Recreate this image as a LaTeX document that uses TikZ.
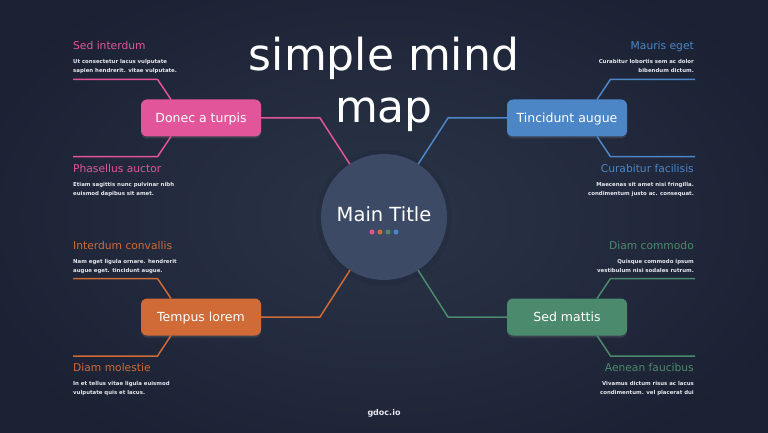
\documentclass[tikz,border=0pt]{standalone}
\usepackage{fontspec}
\setmainfont{DejaVu Sans}
\usetikzlibrary{shadows}
\definecolor{bgin}{HTML}{2B3448}
\definecolor{bgout}{HTML}{1B2133}
\definecolor{circ}{HTML}{3C4A66}
\definecolor{pinkc}{HTML}{E3559A}
\definecolor{bluec}{HTML}{4C86C7}
\definecolor{orangec}{HTML}{D06A37}
\definecolor{greenc}{HTML}{4B8A6D}
\definecolor{desc}{HTML}{E6E8EE}
\tikzset{
  branch/.style={rounded corners=6pt, minimum width=120pt, minimum height=37pt,
    inner sep=0pt, outer sep=0pt, text=white, font=\fontsize{12.5}{14}\selectfont,
    text height=9.2pt, text depth=0pt,
    drop shadow={opacity=0.25, shadow xshift=0pt, shadow yshift=-2pt}},
  link/.style={line width=1.5pt},
  leaftitle/.style={inner sep=0pt, font=\fontsize{10.7}{13}\selectfont},
  leafdesc/.style={inner sep=0pt, text=desc, font=\fontsize{5.4}{9.5}\selectfont\bfseries},
}
\begin{document}
\begin{tikzpicture}[x=1pt,y=-1pt]
\useasboundingbox (0,0) rectangle (768,433);
\shade[inner color=bgin, outer color=bgout] (-60,-60) rectangle (828,493);
% title
\node[anchor=base, inner sep=0pt, text=white, font=\fontsize{44}{52}\selectfont] (t1) at (384,71) {simple mind};
\node[anchor=base, inner sep=0pt, text=white, font=\fontsize{44}{52}\selectfont] (t2) at (384,123) {map};
% central circle
\fill[black, opacity=0.06] (384,218) circle (68);
\node[circle, fill=circ, minimum size=126pt, inner sep=0pt, outer sep=0pt] (main) at (384,217) {};
\node[anchor=base, inner sep=0pt, text=white, font=\fontsize{19.5}{22}\selectfont] (mt) at (384,221) {Main Title};
\fill[pinkc] (372,232) circle (2.5);
\fill[orangec] (380,232) circle (2.5);
\fill[greenc] (388,232) circle (2.5);
\fill[bluec] (396,232) circle (2.5);
% branch boxes
\node[branch, fill=pinkc] (pb) at (201,118) {Donec a turpis};
\node[branch, fill=bluec] (bb) at (567,118) {Tincidunt augue};
\node[branch, fill=orangec] (ob) at (201,317) {Tempus lorem};
\node[branch, fill=greenc] (gb) at (567,317) {Sed mattis};
% elbows to main
\coordinate (pe) at (320,118);
\coordinate (be) at (448,118);
\coordinate (oe) at (320,317);
\coordinate (ge) at (448,317);
\draw[link, pinkc] (pb.east) -- (pe) -- (main);
\draw[link, bluec] (bb.west) -- (be) -- (main);
\draw[link, orangec] (ob.east) -- (oe) -- (main);
\draw[link, greenc] (gb.west) -- (ge) -- (main);
% leaf connectors
\coordinate (pt1) at (157.5,79.3); \coordinate (pt2) at (73,79.3);
\coordinate (pd1) at (157.5,156.7); \coordinate (pd2) at (73,156.7);
\coordinate (bt1) at (610.5,79.3); \coordinate (bt2) at (695,79.3);
\coordinate (bd1) at (610.5,156.7); \coordinate (bd2) at (695,156.7);
\coordinate (ot1) at (157.5,278.5); \coordinate (ot2) at (73,278.5);
\coordinate (od1) at (157.5,356); \coordinate (od2) at (73,356);
\coordinate (gt1) at (610.5,278.5); \coordinate (gt2) at (695,278.5);
\coordinate (gd1) at (610.5,356); \coordinate (gd2) at (695,356);
\draw[link, pinkc] ([xshift=30pt]pb.north west) -- (pt1) -- (pt2);
\draw[link, pinkc] ([xshift=30pt]pb.south west) -- (pd1) -- (pd2);
\draw[link, bluec] ([xshift=-30pt]bb.north east) -- (bt1) -- (bt2);
\draw[link, bluec] ([xshift=-30pt]bb.south east) -- (bd1) -- (bd2);
\draw[link, orangec] ([xshift=30pt]ob.north west) -- (ot1) -- (ot2);
\draw[link, orangec] ([xshift=30pt]ob.south west) -- (od1) -- (od2);
\draw[link, greenc] ([xshift=-30pt]gb.north east) -- (gt1) -- (gt2);
\draw[link, greenc] ([xshift=-30pt]gb.south east) -- (gd1) -- (gd2);
% leaf texts left (description node base = last line baseline)
\node[leaftitle, text=pinkc, anchor=base west] (l1) at (73,50) {Sed interdum};
\node[leafdesc, anchor=base west, align=left] (d1) at (73,73) {Ut consectetur lacus vulputate\\sapien hendrerit. vitae vulputate.};
\node[leaftitle, text=pinkc, anchor=base west] (l2) at (73,172.3) {Phasellus auctor};
\node[leafdesc, anchor=base west, align=left] (d2) at (73,195.5) {Etiam sagittis nunc pulvinar nibh\\euismod dapibus sit amet.};
\node[leaftitle, text=orangec, anchor=base west] (l5) at (73,249.3) {Interdum convallis};
\node[leafdesc, anchor=base west, align=left] (d5) at (73,272.5) {Nam eget ligula ornare. hendrerit\\augue eget. tincidunt augue.};
\node[leaftitle, text=orangec, anchor=base west] (l6) at (73,371.3) {Diam molestie};
\node[leafdesc, anchor=base west, align=left] (d6) at (73,394.5) {In et tellus vitae ligula euismod\\vulputate quis et lacus.};
% leaf texts right
\node[leaftitle, text=bluec, anchor=base east] (l3) at (694,50) {Mauris eget};
\node[leafdesc, anchor=base east, align=right] (d3) at (694,73) {Curabitur lobortis sem ac dolor\\bibendum dictum.};
\node[leaftitle, text=bluec, anchor=base east] (l4) at (694,172.3) {Curabitur facilisis};
\node[leafdesc, anchor=base east, align=right] (d4) at (694,195.5) {Maecenas sit amet nisi fringilla.\\condimentum justo ac. consequat.};
\node[leaftitle, text=greenc, anchor=base east] (l7) at (694,249.3) {Diam commodo};
\node[leafdesc, anchor=base east, align=right] (d7) at (694,272.5) {Quisque commodo ipsum\\vestibulum nisi sodales rutrum.};
\node[leaftitle, text=greenc, anchor=base east] (l8) at (694,371.3) {Aenean faucibus};
\node[leafdesc, anchor=base east, align=right] (d8) at (694,394.5) {Vivamus dictum risus ac lacus\\condimentum. vel placerat dui};
% footer
\node[inner sep=0pt, text=desc, font=\fontsize{8}{9}\selectfont\bfseries] (ft) at (384,413) {gdoc.io};
\end{tikzpicture}
\end{document}
